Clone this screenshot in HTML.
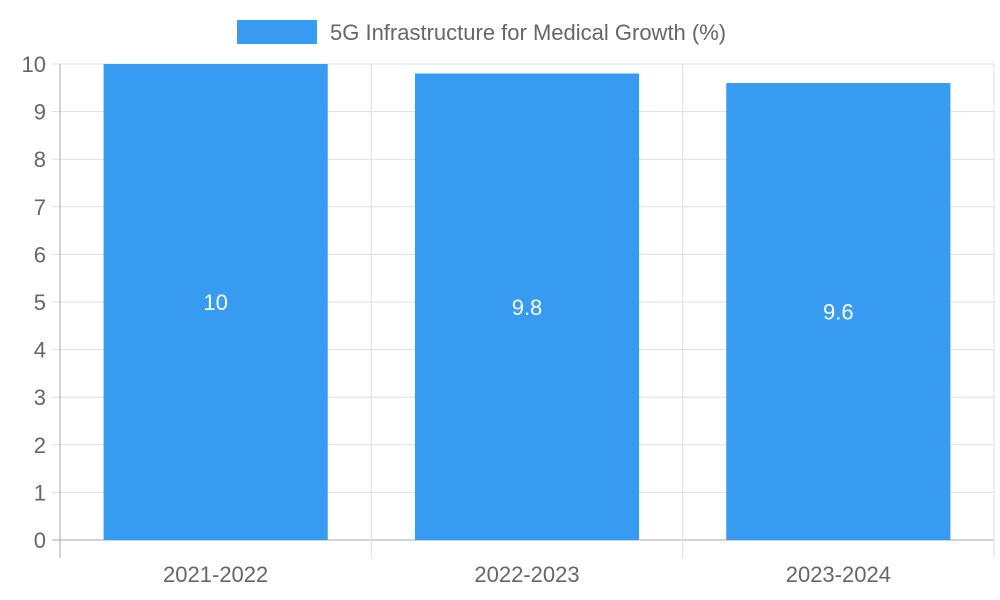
<!DOCTYPE html>
<html><head><meta charset="utf-8"><style>
body{margin:0;background:#fff;}
svg{display:block;font-family:"Liberation Sans",sans-serif;}
</style></head><body>
<svg id="chart" width="1000" height="600">
<g id="grid"></g>
<g id="bars"></g>
<g id="axes"></g>
<g>
<rect x="237" y="20" width="80" height="24" fill="#379bf1"></rect>
<text x="330" y="40" font-size="22" fill="#666">5G Infrastructure for Medical Growth (%)</text>
</g>
</svg>
<script>
const categories=["2021-2022","2022-2023","2023-2024"];
const values=[10,9.8,9.6];
const yTicks=[0,1,2,3,4,5,6,7,8,9,10];
const L=60,R=994,T=64,B=540,yMax=10;
const ns="http://www.w3.org/2000/svg";
const bw=(R-L)/categories.length;
const y=v=>B-(v/yMax)*(B-T);
const x=i=>L+i*bw;
function mk(tag,attrs,parent,text){const e=document.createElementNS(ns,tag);for(const k in attrs)e.setAttribute(k,attrs[k]);if(text!==undefined)e.textContent=text;document.getElementById(parent).appendChild(e);return e;}
yTicks.forEach(t=>{
 const g=mk('line',{x1:L-8,x2:R,y1:y(t),y2:y(t),stroke:t===0?'#aaa':'#e0e0e0','stroke-width':1},'grid');
 
 
 const tx=mk('text',{x:L-14,y:y(t)+8,'text-anchor':'end','font-size':22,fill:'#666'},'axes',String(t));
 
 
});
for(let i=0;i<=categories.length;i++){
 const g=mk('line',{x1:x(i),x2:x(i),y1:T,y2:B+18,stroke:i===0?'#aaa':'#e0e0e0','stroke-width':1},'grid');
 
 
}
categories.forEach((c,i)=>{
 const w=bw*0.72,bx=x(i)+(bw-w)/2;
 const r=mk('rect',{x:bx,y:y(values[i]),width:w,height:B-y(values[i]),fill:'#379bf1'},'bars');
 
 
 const vl=mk('text',{x:bx+w/2,y:(y(values[i])+B)/2+8,'text-anchor':'middle','font-size':22,fill:'#fff'},'bars',String(values[i]));
 
 
 const xl=mk('text',{x:x(i)+bw/2,y:582,'text-anchor':'middle','font-size':22,fill:'#666'},'axes',c);
 
 
});
</script>
</body></html>
